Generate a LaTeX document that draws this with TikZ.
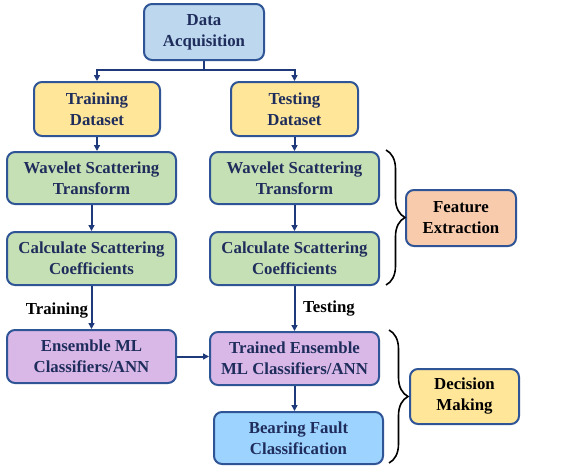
\documentclass[tikz,border=0pt]{standalone}
\usepackage{fontspec}
\setmainfont{Liberation Serif}
\usetikzlibrary{arrows.meta,decorations.pathreplacing}
\definecolor{bd}{HTML}{2F5597}
\definecolor{txt}{HTML}{1F2D5C}
\definecolor{ln}{HTML}{1F3A7A}
\definecolor{cblue}{HTML}{BDD7EE}
\definecolor{cyel}{HTML}{FFE699}
\definecolor{cgreen}{HTML}{C5E0B4}
\definecolor{cpurp}{HTML}{D9B8E8}
\definecolor{corange}{HTML}{F8CBAD}
\definecolor{cbear}{HTML}{9DD3FF}
\tikzset{
  box/.style={draw=bd, line width=2pt, rounded corners=8pt, align=center,
    font=\fontsize{16.8}{21}\selectfont\bfseries, text=txt, inner sep=0pt},
  conn/.style={draw=ln, line width=2pt, -{Triangle[length=6pt,width=6pt]}},
  plain/.style={draw=ln, line width=2pt},
  lbl/.style={font=\fontsize{16.8}{21}\selectfont\bfseries, text=black},
  brc/.style={draw=black, line width=1.6pt, decorate, decoration={brace, amplitude=19pt}}
}
\begin{document}
\begin{tikzpicture}[x=1pt,y=-1pt]
\useasboundingbox (0,0) rectangle (573,471);
\node[box, fill=cblue, minimum width=120pt, minimum height=56pt] (da) at (204,32) {Data\\Acquisition};
\node[box, fill=cyel, minimum width=126pt, minimum height=54pt] (trd) at (97,109) {Training\\Dataset};
\node[box, fill=cyel, minimum width=127pt, minimum height=54pt] (ted) at (294.5,109) {Testing\\Dataset};
\node[box, fill=cgreen, minimum width=169pt, minimum height=52pt] (wl) at (91.5,178) {Wavelet Scattering\\Transform};
\node[box, fill=cgreen, minimum width=169pt, minimum height=52pt] (wr) at (294.5,178) {Wavelet Scattering\\Transform};
\node[box, fill=cgreen, minimum width=169pt, minimum height=53pt] (cl) at (91.5,258.5) {Calculate Scattering\\Coefficients};
\node[box, fill=cgreen, minimum width=169pt, minimum height=53pt] (cr) at (294.5,258.5) {Calculate Scattering\\Coefficients};
\node[box, fill=cpurp, minimum width=169pt, minimum height=53pt] (ens) at (91.5,356.5) {Ensemble ML\\Classifiers/ANN};
\node[box, fill=cpurp, minimum width=169pt, minimum height=53pt] (tens) at (294.5,358.5) {Trained Ensemble\\ML Classifiers/ANN};
\node[box, fill=cbear, minimum width=169pt, minimum height=52pt] (bf) at (298.5,438) {Bearing Fault\\Classification};
\node[box, fill=corange, text=black, minimum width=110pt, minimum height=56pt] (fe) at (461,218) {Feature\\Extraction};
\node[box, fill=cyel, text=black, minimum width=109pt, minimum height=55pt] (dm) at (464.5,396.5) {Decision\\Making};
\node[lbl] (ltr) at (57,311) {Training};
\node[lbl] (lte) at (329,309) {Testing};
\coordinate (split) at (204,70);
\draw[plain] (da.south) -- (split);
\draw[conn] (split) -| (trd.north);
\draw[conn] (split) -| (ted.north);
\draw[conn] (trd.south) -- (trd.south |- wl.north);
\draw[conn] (ted.south) -- (ted.south |- wr.north);
\draw[conn] (wl.south) -- (cl.north);
\draw[conn] (wr.south) -- (cr.north);
\draw[conn] (cl.south) -- (ens.north);
\draw[conn] (cr.south) -- (tens.north);
\draw[conn] (ens.east) -- (ens.east -| tens.west);
\draw[conn] (tens.south) -- (tens.south |- bf.north);
\coordinate (b1t) at (386,150);
\coordinate (b1b) at (386,285);
\coordinate (b2t) at (389,330);
\coordinate (b2b) at (389,463);
\draw[brc] (b1t) -- (b1b);
\draw[brc] (b2t) -- (b2b);
\end{tikzpicture}
\end{document}
